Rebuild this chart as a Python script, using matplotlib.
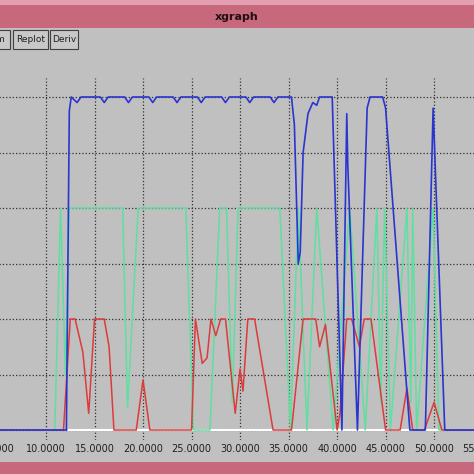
import matplotlib.pyplot as plt
from matplotlib.patches import Rectangle

# traces
blue_x = [5, 12.1, 12.4, 12.6, 13.2, 13.6, 14.0, 15.6, 16.0, 16.4, 18.1, 18.5, 18.9, 20.6, 21.0, 21.4,
          23.1, 23.5, 23.9, 25.6, 26.0, 26.4, 28.1, 28.5, 28.9, 30.6, 31.0, 31.4, 33.1, 33.5, 33.9, 35.3,
          35.6, 36.0, 36.2, 36.5, 37.0, 37.5, 37.9, 38.2, 39.5, 40.5, 41.0, 41.1, 42.1, 43.1, 43.4, 44.7,
          45.0, 47.5, 49.1, 49.9, 51.1, 59]
blue_y = [0, 0, 5.75, 6.0, 5.9, 6.0, 6.0, 6.0, 5.9, 6.0, 6.0, 5.9, 6.0, 6.0, 5.9, 6.0,
          6.0, 5.9, 6.0, 6.0, 5.9, 6.0, 6.0, 5.9, 6.0, 6.0, 5.9, 6.0, 6.0, 5.9, 6.0, 6.0,
          5.5, 3.0, 3.2, 5.0, 5.7, 5.9, 5.85, 6.0, 6.0, 0, 5.7, 4.8, 0, 5.8, 6.0, 6.0,
          5.8, 0, 0, 5.8, 0, 0]

green_x = [5, 10.9, 11.5, 12.0, 12.4, 17.9, 18.4, 19.5, 24.4, 25.2, 26.9, 27.9, 28.6, 29.2, 29.8,
           34.1, 35.2, 36.0, 36.9, 37.9, 39.6, 41.3, 42.9, 44.1, 44.5, 44.9, 45.5, 47.2, 47.6, 47.8,
           48.2, 49.9, 50.5, 59]
green_y = [0, 0, 4, 1.0, 4, 4, 0.4, 4, 4, 0, 0, 4, 4, 0.5, 4,
           4, 0, 4, 0, 4, 0, 4, 0, 4, 0.5, 4, 0, 4, 0.5, 4,
           0, 4, 0, 0]

red_x = [5, 11.8, 12.5, 13.0, 13.8, 14.4, 15.0, 16.0, 16.5, 17.0, 19.3, 20.0, 20.7, 25.0, 25.4,
         26.1, 26.6, 27.0, 27.5, 28.0, 28.5, 29.5, 30.0, 30.3, 30.8, 31.5, 33.4, 35.3, 36.5, 37.8,
         38.2, 38.8, 40.0, 40.3, 41.0, 41.5, 42.3, 42.8, 43.5, 45.0, 46.5, 47.2, 47.8, 49.0, 50.0,
         50.8, 59]
red_y = [0, 0, 2.0, 2.0, 1.4, 0.3, 2.0, 2.0, 1.5, 0, 0, 0.9, 0, 0, 2.0,
         1.2, 1.3, 2.0, 1.7, 2.0, 2.0, 0.3, 1.1, 0.7, 2.0, 2.0, 0, 0, 2.0, 2.0,
         1.5, 1.9, 0, 0.3, 2.0, 2.0, 1.5, 2.0, 2.0, 0, 0, 0.75, 0, 0, 0.5,
         0, 0]

xticks = [5, 10, 15, 20, 25, 30, 35, 40, 45, 50, 55]
yticks = [0, 1, 2, 3, 4, 5, 6]

fig = plt.figure(figsize=(4.74, 4.74), dpi=100)
fig.patch.set_facecolor('#c0c0c0')

ax = fig.add_axes([-0.1, 1 - 440 / 474, 1.2, (440 - 78) / 474])
ax.set_facecolor('#c0c0c0')
ax.set_xlim(0.37, 59.0)
ax.set_ylim(-10 / 55.5, 352 / 55.5)
for s in ax.spines.values():
    s.set_visible(False)
ax.set_xticks(xticks)
ax.set_xticklabels(['%.4f' % t for t in xticks], fontsize=7, color='#202020')
ax.set_yticks(yticks)
ax.set_yticklabels([])
ax.tick_params(length=0, pad=3)
ax.grid(True, color='#303030', linestyle=':', linewidth=0.9)

ax.plot([12.4, 59], [0, 0], color='white', lw=1.5)
ax.plot(green_x, green_y, color='#5de0a0', lw=1.1)
ax.plot(red_x, red_y, color='#dd3b3b', lw=1.1)
ax.plot(blue_x, blue_y, color='#2a35d0', lw=1.2)

# window decorations
fig.patches.append(Rectangle((0, 1 - 28 / 474), 1, 28 / 474, transform=fig.transFigure,
                             facecolor='#c8687c', edgecolor='none'))
fig.patches.append(Rectangle((0, 1 - 5 / 474), 1, 5 / 474, transform=fig.transFigure,
                             facecolor='#e4a0b0', edgecolor='none'))
fig.text(0.5, 1 - 17 / 474, 'xgraph', ha='center', va='center', fontsize=8,
         fontweight='bold', color='#201010')
fig.patches.append(Rectangle((0, 0), 1, 12 / 474, transform=fig.transFigure,
                             facecolor='#c8687c', edgecolor='none'))
for label, x0, w in [('m', -12, 22), ('Replot', 13, 35), ('Deriv', 50, 28)]:
    fig.patches.append(Rectangle((x0 / 474, 1 - 49 / 474), w / 474, 19 / 474,
                                 transform=fig.transFigure, facecolor='#c8c8c8',
                                 edgecolor='#404040', lw=0.8))
    fig.text((x0 + w / 2) / 474, 1 - 40 / 474, label, ha='center', va='center',
             fontsize=6.5, color='#202020')

fig.savefig('out.png', dpi=100, facecolor=fig.get_facecolor())
